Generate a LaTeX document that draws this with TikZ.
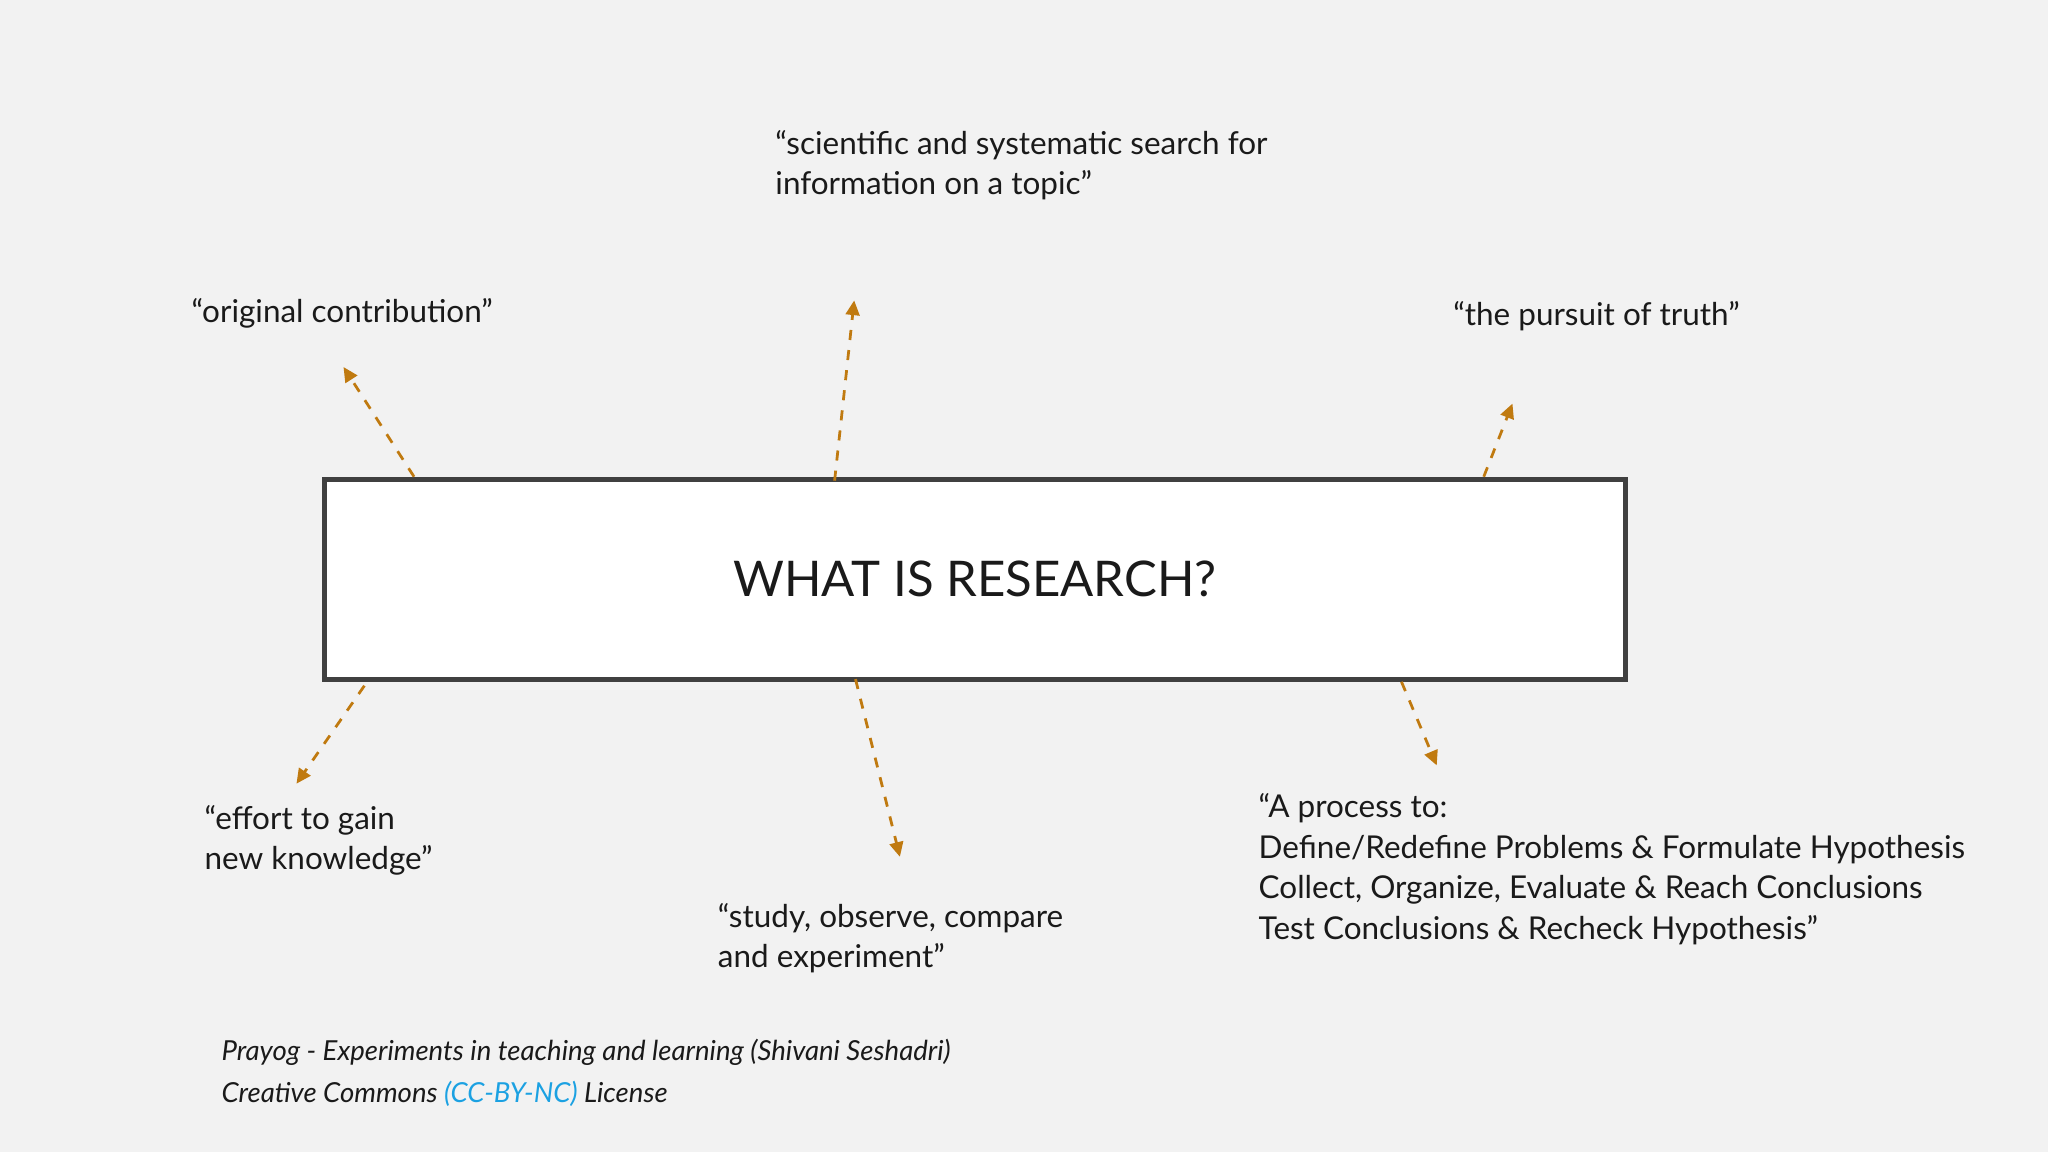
\documentclass[tikz,border=0pt]{standalone}
\usepackage{fontspec}
\setmainfont{Lato}
\usetikzlibrary{arrows.meta}
\definecolor{bg}{HTML}{F2F2F2}
\definecolor{arr}{HTML}{C07A10}
\definecolor{frame}{HTML}{404040}
\definecolor{txt}{HTML}{1A1A1A}
\definecolor{link}{HTML}{1BA1E2}
\tikzset{
  quote/.style={anchor=north west,align=left,inner sep=0pt,text=txt,font=\fontsize{6.85}{8.8}\selectfont},
  foot/.style={anchor=north west,align=left,inner sep=0pt,text=txt,font=\fontsize{6}{9.1}\selectfont\itshape},
  link/.style={draw=arr,dashed,line width=0.6pt,dash pattern=on 2.2pt off 2.2pt,-{Triangle[length=3.2pt,width=3pt]}}
}
\begin{document}
\begin{tikzpicture}[x=0.01cm,y=-0.01cm]
\fill[bg] (0,0) rectangle (1568,882);
\useasboundingbox (0,0) rectangle (1568,882);
\node[draw=frame,line width=1.1pt,fill=white,minimum width=9.95cm,minimum height=1.53cm,inner sep=0pt,
  font=\fontsize{10.7}{13}\selectfont,text=txt] (box) at (746.5,443.5) {WHAT IS RESEARCH?};
\node[quote] (q1) at (146,228) {``original contribution''};
\node[quote] (q2) at (593,99) {``scientific and systematic search for\\information on a topic''};
\node[quote] (q3) at (1112,230) {``the pursuit of truth''};
\node[quote] (q4) at (156,616) {``effort to gain\\new knowledge''};
\node[quote] (q5) at (549,691) {``study, observe, compare\\and experiment''};
\node[quote] (q6) at (963,607) {``A process to:\\Define/Redefine Problems \& Formulate Hypothesis\\Collect, Organize, Evaluate \& Reach Conclusions\\Test Conclusions \& Recheck Hypothesis''};
\node[foot] (f) at (169,795) {Prayog - Experiments in teaching and learning (Shivani Seshadri)\\Creative Commons {\color{link}(CC-BY-NC)} License};
\coordinate (s1) at (317,365); \coordinate (e1) at (263,281);
\coordinate (s2) at (639,368); \coordinate (e2) at (654,230);
\coordinate (s3) at (1136,365); \coordinate (e3) at (1158,309);
\coordinate (s4) at (279,525); \coordinate (e4) at (227,600);
\coordinate (s5) at (655,520); \coordinate (e5) at (689,656);
\coordinate (s6) at (1073,522); \coordinate (e6) at (1100,586);
\foreach \i in {1,...,6} \draw[link] (s\i) -- (e\i);
\end{tikzpicture}
\end{document}
